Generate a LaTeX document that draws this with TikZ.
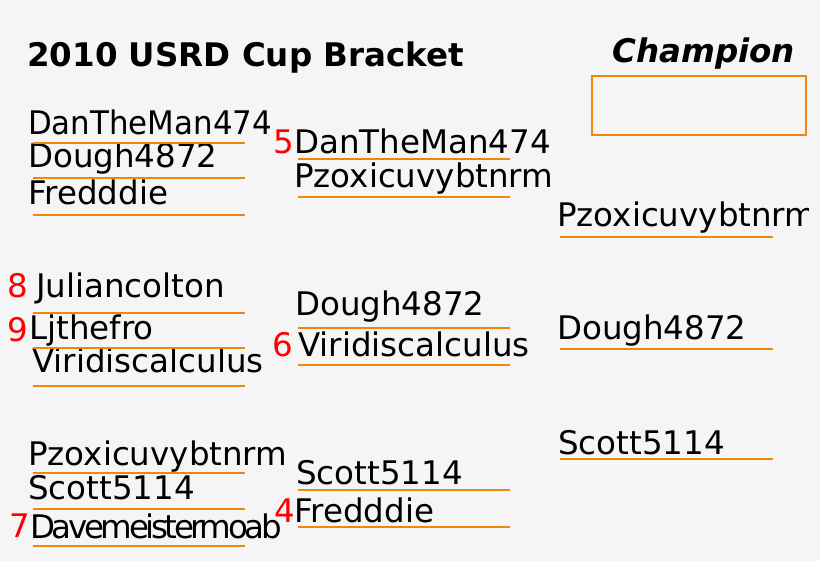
\documentclass[tikz,border=0pt]{standalone}
\usepackage{fontspec}
\setmainfont{DejaVu Sans}
\usepackage{graphicx}
\usepackage{tikz}

\definecolor{bgpage}{RGB}{245,245,245}
\definecolor{lineorange}{RGB}{242,134,10}

\tikzset{
    player/.style={anchor=base west, inner sep=0pt, font=\fontsize{32.5}{38}\selectfont},
    seednum/.style={player, text=red},
    uline/.style={draw=lineorange, line width=2pt},
    heading/.style={anchor=base west, inner sep=0pt, font=\fontsize{32.5}{38}\selectfont\bfseries}
}

\begin{document}
\begin{tikzpicture}[x=1pt, y=-1pt]
    \fill[bgpage] (0,0) rectangle (820,561);
    \useasboundingbox (0,0) rectangle (820,561);

    \node (title) [heading] at (27,67) {2010 USRD Cup Bracket};
    \node (champ) [heading, font=\fontsize{32.5}{38}\selectfont\bfseries\itshape] at (612,63) {Champion};
    \draw[draw=lineorange, line width=1.5pt] (592,76) rectangle (806,135);

    \begin{scope}
    \clip (0,0) rectangle (808,561);
    % first round
    \node (A1) [player] at (28,135) {\scalebox{0.95}[1]{DanTheMan474}};
    \node (A2) [player] at (28,168) {Dough4872};
    \node (A3) [player] at (28,205) {Fredddie};
    \node (A4) [player] at (36,298) {Juliancolton};
    \node (A5) [player] at (29,340) {Ljthefro};
    \node (A6) [player] at (32,373) {Viridiscalculus};
    \node (A7) [player] at (28,465) {Pzoxicuvybtnrm};
    \node (A8) [player] at (28,500) {Scott5114};
    \node (A9) [player] at (30,538) {\addfontfeature{LetterSpace=-10.5}Davemeistermoab};
    \foreach \y in {143,178,215,313,348,386,473,509,546}
        \draw[uline] (33,\y) -- (245,\y);

    % second round
    \node (B1) [player] at (294,154) {DanTheMan474};
    \node (B2) [player] at (294,188) {Pzoxicuvybtnrm};
    \node (B3) [player] at (295,316) {Dough4872};
    \node (B4) [player] at (298,357) {Viridiscalculus};
    \node (B5) [player] at (296,485) {Scott5114};
    \node (B6) [player] at (294,522) {Fredddie};
    \foreach \y in {159,197,328,365,490,527}
        \draw[uline] (298,\y) -- (510,\y);

    % third round
    \node (C1) [player] at (557,227) {Pzoxicuvybtnrm};
    \node (C2) [player] at (557,340) {Dough4872};
    \node (C3) [player] at (558,454) {Scott5114};
    \foreach \y in {237,349,459}
        \draw[uline] (560,\y) -- (773,\y);

    % seeds
    \node (S8) [seednum] at (7,298) {8};
    \node (S9) [seednum] at (7,342) {9};
    \node (S7) [seednum] at (9,537) {7};
    \node (S5) [seednum] at (273,154) {5};
    \node (S6) [seednum] at (272,357) {6};
    \node (S4) [seednum] at (274,522) {4};
    \end{scope}
\end{tikzpicture}
\end{document}
